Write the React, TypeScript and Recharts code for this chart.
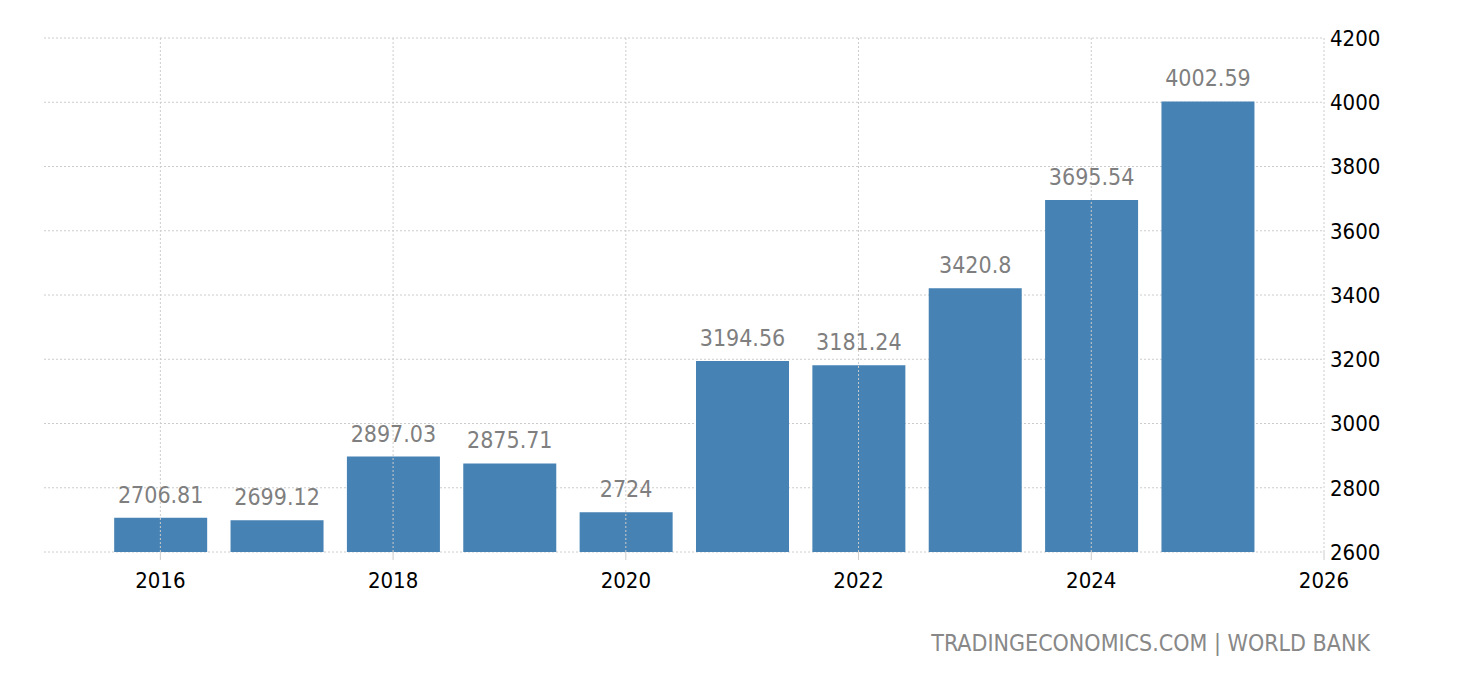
import React from 'react';
import { BarChart, Bar, XAxis, YAxis, CartesianGrid, LabelList, ReferenceLine } from 'recharts';

const years = [2016, 2017, 2018, 2019, 2020, 2021, 2022, 2023, 2024, 2025];
const values = [2706.81, 2699.12, 2897.03, 2875.71, 2724, 3194.56, 3181.24, 3420.8, 3695.54, 4002.59];
const xTicks = [2016, 2018, 2020, 2022, 2024, 2026];
const yTicks = [2600, 2800, 3000, 3200, 3400, 3600, 3800, 4000, 4200];

const data = years.map((y, i) => ({ year: y, value: values[i] }));

const FONT = '"Liberation Sans Narrow", "DejaVu Sans Condensed", sans-serif';

export default function App() {
  return (
    <div style={{ position: 'absolute', left: 0, top: 0, width: 1460, height: 680, background: '#fff' }}>
      <BarChart
        width={1460}
        height={680}
        data={data}
        margin={{ top: 38, right: 56, bottom: 88, left: 44 }}
      >
        <CartesianGrid stroke="#cccccc" strokeDasharray="2 2" vertical={false} />
        {xTicks.map((t) => (
          <ReferenceLine key={t} x={t} stroke="#cccccc" strokeDasharray="2 2" ifOverflow="extendDomain" />
        ))}
        <XAxis
          dataKey="year"
          type="number"
          domain={[2015, 2026]}
          ticks={xTicks}
          allowDecimals={false}
          axisLine={false}
          tickLine={{ stroke: '#cccccc' }}
          tickSize={8}
          tickMargin={12}
          height={40}
          tick={{ fill: '#000', fontSize: 22, fontFamily: FONT }}
        />
        <YAxis
          orientation="right"
          type="number"
          domain={[2600, 4200]}
          ticks={yTicks}
          axisLine={false}
          tickLine={false}
          tickMargin={0}
          width={80}
          allowDataOverflow
          tick={{ fill: '#000', fontSize: 22, fontFamily: FONT, textAnchor: 'start' }}
        />
        <Bar dataKey="value" fill="#4682b4" barSize={93} isAnimationActive={false}>
          <LabelList
            dataKey="value"
            position="top"
            offset={15}
            fill="#7f7f7f"
            fontSize={23}
            fontFamily={FONT}
          />
        </Bar>
      </BarChart>
      <div
        style={{
          position: 'absolute',
          right: 90,
          top: 629,
          fontFamily: FONT,
          fontSize: 23,
          color: '#888888',
          whiteSpace: 'nowrap',
          lineHeight: '28px',
        }}
      >
        TRADINGECONOMICS.COM | WORLD BANK
      </div>
    </div>
  );
}
